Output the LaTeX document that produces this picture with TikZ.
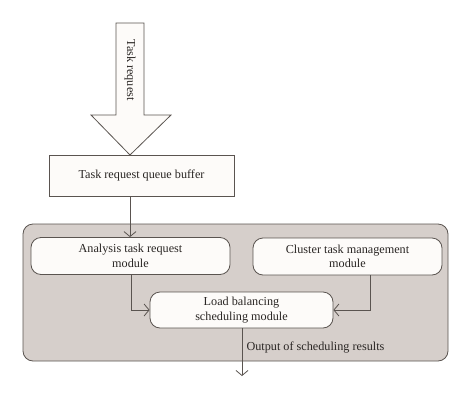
\documentclass[tikz,border=0pt]{standalone}
\usepackage{fontspec}
\setmainfont{Liberation Serif}
\usetikzlibrary{arrows.meta}

\definecolor{linegray}{HTML}{5A5450}
\definecolor{panelgray}{HTML}{D6CFCB}
\definecolor{boxwhite}{HTML}{FDFBF9}
\definecolor{textdark}{HTML}{2A2624}

\begin{document}
\begin{tikzpicture}[x=1pt,y=-1pt,font=\fontsize{12.2}{14.5}\selectfont,text=textdark,
	module/.style={draw=linegray,fill=boxwhite,rounded corners=10pt,align=center,inner sep=0pt,line width=0.8pt},
	link/.style={draw=linegray,line width=0.8pt,-{Straight Barb[length=5pt,width=12pt]}}]
	\useasboundingbox (0,0) rectangle (474,402);

	% panel behind the modules
	\draw[draw=linegray,fill=panelgray,rounded corners=10pt,line width=0.8pt] (23,224) rectangle (448,361);

	% incoming task request
	\draw[draw=linegray,fill=boxwhite,line width=0.8pt] (116,23) -- (144,23) -- (144,115) -- (171,115) -- (130,155) -- (91,115) -- (116,115) -- cycle;
	\node[rotate=-90](req) at (130,70) {Task request};

	\node[draw=linegray,fill=boxwhite,minimum width=185pt,minimum height=41pt,inner sep=0pt,line width=0.8pt](buf) at (141.5,175.5) {Task request queue buffer};

	\node[module,minimum width=199pt,minimum height=37pt](ana) at (130.5,256) {Analysis task request\\module};
	\node[module,minimum width=189pt,minimum height=37pt](clu) at (347.5,256.5) {Cluster task management\\module};
	\node[module,minimum width=183pt,minimum height=36pt](lbs) at (241.5,310) {Load balancing\\scheduling module};
	\coordinate (out) at (242,376);
	\node[anchor=west](outlbl) at (243,348) {Output of scheduling results};

	\draw[link] (buf.south -| 130,0) -- (ana.north -| 130,0);
	\draw[link] (ana.south -| 131,0) |- (lbs.west);
	\draw[link] (clu.south -| 370,0) |- (lbs.east);
	\draw[link] (lbs.south -| out) -- (out);
\end{tikzpicture}
\end{document}
